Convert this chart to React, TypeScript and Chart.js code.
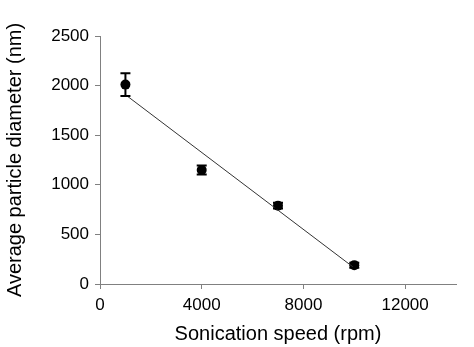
import React, { useEffect, useRef } from "react";
import { Chart, registerables } from "chart.js";

Chart.register(...registerables);

const speeds = [1000, 4000, 7000, 10000];
const diameters = [2010, 1150, 790, 190];
const errors = [115, 45, 30, 25];
const trendX = [1000, 10000];
const trendY = [1908, 162];
const xTicks = [0, 4000, 8000, 12000];
const yTicks = [0, 500, 1000, 1500, 2000, 2500];

const FONT = "'Liberation Sans', Arial, sans-serif";

const errorBarPlugin = {
  id: "errorBars",
  afterDatasetsDraw(chart: any) {
    const ctx = chart.ctx;
    const xs = chart.scales.x;
    const ys = chart.scales.y;
    ctx.save();
    ctx.strokeStyle = "#000";
    ctx.lineWidth = 2;
    speeds.forEach((s, i) => {
      const e = errors[i];
      const px = xs.getPixelForValue(s);
      const top = ys.getPixelForValue(diameters[i] + e);
      const bot = ys.getPixelForValue(diameters[i] - e);
      ctx.beginPath();
      ctx.moveTo(px, top);
      ctx.lineTo(px, bot);
      ctx.moveTo(px - 5, top);
      ctx.lineTo(px + 5, top);
      ctx.moveTo(px - 5, bot);
      ctx.lineTo(px + 5, bot);
      ctx.stroke();
    });
    ctx.restore();
  },
};

export default function App() {
  const ref = useRef<HTMLCanvasElement>(null);
  useEffect(() => {
    if (!ref.current) return;
    const chart = new Chart(ref.current, {
      type: "scatter",
      data: {
        datasets: [
          {
            type: "line",
            data: trendX.map((x, i) => ({ x, y: trendY[i] })),
            borderColor: "#333",
            borderWidth: 1,
            pointRadius: 0,
            fill: false,
          } as any,
          {
            data: speeds.map((x, i) => ({ x, y: diameters[i] })),
            backgroundColor: "#000",
            borderColor: "#000",
            pointRadius: 5,
            pointBorderWidth: 0,
          },
        ],
      },
      options: {
        responsive: false,
        animation: false,
        layout: { padding: { left: 0, top: 36, right: 18, bottom: 0 } },
        plugins: { legend: { display: false }, tooltip: { enabled: false } },
        scales: {
          x: {
            type: "linear",
            min: 0,
            max: 14000,
            afterBuildTicks: (s: any) => {
              s.ticks = xTicks.map((v) => ({ value: v }));
            },
            afterFit: (s: any) => {
              s.height = 63;
            },
            grid: { drawOnChartArea: false, tickLength: 5, color: "#808080", lineWidth: 1 },
            border: { color: "#808080", width: 1 },
            ticks: {
              color: "#000",
              font: { family: FONT, size: 17 },
              padding: 6,
              maxRotation: 0,
              callback: (v: any) => String(v),
            },
            title: {
              display: true,
              text: "Sonication speed (rpm)",
              color: "#000",
              font: { family: FONT, size: 20 },
              padding: { top: 0, bottom: 1 },
            },
          },
          y: {
            type: "linear",
            min: 0,
            max: 2500,
            afterBuildTicks: (s: any) => {
              s.ticks = yTicks.map((v) => ({ value: v }));
            },
            afterFit: (s: any) => {
              s.width = 100;
            },
            grid: { drawOnChartArea: false, tickLength: 5, color: "#808080", lineWidth: 1 },
            border: { color: "#808080", width: 1 },
            ticks: {
              color: "#000",
              font: { family: FONT, size: 17 },
              padding: 6,
              callback: (v: any) => String(v),
            },
            title: {
              display: true,
              text: "Average particle diameter (nm)",
              color: "#000",
              font: { family: FONT, size: 20 },
              padding: { top: 3, bottom: 0 },
            },
          },
        },
      },
      plugins: [errorBarPlugin],
    });
    return () => chart.destroy();
  }, []);
  return (
    <div style={{ position: "fixed", left: 0, top: 0, width: 474, height: 347, background: "#fff" }}>
      <canvas ref={ref} width={474} height={347} style={{ width: 474, height: 347 }} />
    </div>
  );
}
